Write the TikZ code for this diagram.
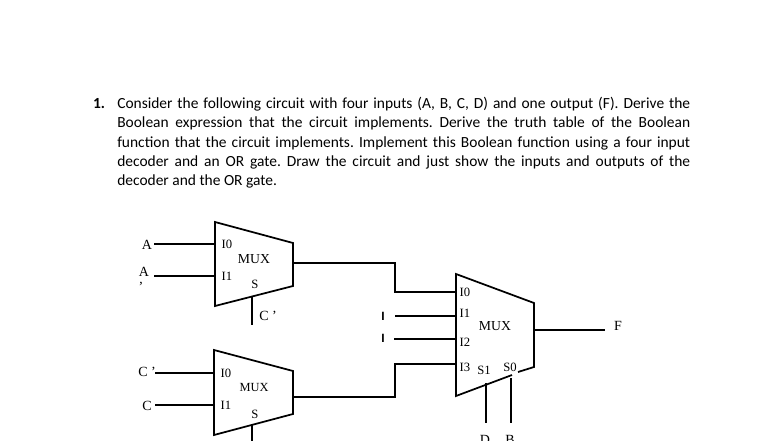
\documentclass[tikz,border=0pt]{standalone}
\usepackage{fontspec}
\setmainfont{Liberation Serif}
\newfontfamily\bodyfont{Carlito}
\newfontfamily\barfont{Liberation Sans}
\tikzset{
  wire/.style={line width=1.1pt},
  muxline/.style={line width=1.3pt, line join=miter},
  pin/.style={inner sep=0pt, font=\fontsize{9.5}{10}\selectfont},
  muxname/.style={inner sep=0pt, font=\fontsize{10.3}{11}\selectfont},
  sig/.style={inner sep=0pt, font=\fontsize{10.5}{11}\selectfont},
  bar/.style={inner sep=0pt, font=\barfont\bfseries\fontsize{9}{10}\selectfont},
  para/.style={inner sep=0pt, anchor=north west, text width=429.75pt, align=justify,
    font=\bodyfont\fontsize{11.6}{14.6}\selectfont}
}
\begin{document}
\frenchspacing
\begin{tikzpicture}[x=0.75pt, y=-0.75pt]
  \useasboundingbox (0,0) rectangle (784,441);
  \node (num) [inner sep=0pt, font=\bodyfont\bfseries\fontsize{11.6}{14.6}\selectfont] at (99,104) {1.};
  \node (question) [para] at (117,96.5) {Consider the following circuit with four inputs (A, B, C, D) and one output (F). Derive the\linebreak
    Boolean expression that the circuit implements. Derive the truth table of the Boolean\linebreak
    function that the circuit implements. Implement this Boolean function using a four input\linebreak
    decoder and an OR gate. Draw the circuit and just show the inputs and outputs of the\linebreak
    decoder and the OR gate.};
  % upper mux
  \coordinate (ua) at (215,222);
  \coordinate (ub) at (293,243);
  \coordinate (uc) at (293,286);
  \coordinate (ud) at (215,306);
  \draw[muxline] (ua) -- (ub) -- (uc) -- (ud) -- cycle;
  \node (ulabel) [muxname] at (254,259) {MUX};
  \node (uizero) [pin] at (227,244) {I0};
  \node (uione) [pin] at (227,276) {I1};
  \node (us) [pin] at (255,284) {S};
  % lower mux
  \coordinate (la) at (214,350);
  \coordinate (lb) at (293,371);
  \coordinate (lc) at (293,414);
  \coordinate (ld) at (214,435);
  \draw[muxline] (la) -- (lb) -- (lc) -- (ld) -- cycle;
  \node (llabel) [muxname, font=\fontsize{9.3}{10}\selectfont] at (254,387) {MUX};
  \node (lizero) [pin] at (226,373) {I0};
  \node (lione) [pin] at (226,405) {I1};
  \node (ls) [pin] at (255,414) {S};
  % big mux, its edge stops short of S0
  \coordinate (ba) at (456,274);
  \coordinate (bb) at (534,303);
  \coordinate (bc) at (534,367);
  \coordinate (bgapa) at (518,372);
  \coordinate (bgapb) at (512,375);
  \coordinate (bd) at (456,396);
  \draw[muxline] (bgapa) -- (bc) -- (bb) -- (ba) -- (bd) -- (bgapb);
  \node (blabel) [muxname] at (495,326) {MUX};
  \node (bizero) [pin] at (465,292) {I0};
  \node (bione) [pin] at (465,313) {I1};
  \node (bitwo) [pin] at (465,342) {I2};
  \node (bithree) [pin] at (465,367) {I3};
  \node (bsone) [pin] at (484,370) {S1};
  \node (bszero) [pin] at (510,367) {S0};
  % signal names
  \node (siga) [sig] at (147,245) {A};
  \node (sigb) [sig] at (144,272) {A};
  \node (sigbp) [sig] at (141,287) {'};
  \node (sigc) [sig] at (268,316) {C '};
  \node (sigd) [sig] at (147,372) {C '};
  \node (sige) [sig] at (147,406) {C};
  \node (sigf) [sig] at (618,326) {F};
  \node (sigg) [sig] at (485,440) {D};
  \node (sigh) [sig] at (510,440) {B};
  \node (sigone) [bar] at (383,316.5) {I};
  \node (sigzero) [bar] at (383,338.5) {I};
  % wire ends
  \coordinate (w1a) at (154,244);
  \coordinate (w1b) at (215,244);
  \coordinate (w2a) at (154,276);
  \coordinate (w2b) at (215,276);
  \coordinate (w3a) at (155,373);
  \coordinate (w3b) at (214,373);
  \coordinate (w4a) at (155,405);
  \coordinate (w4b) at (214,405);
  \coordinate (usa) at (252,297);
  \coordinate (usb) at (252,325);
  \coordinate (lsa) at (252,425);
  \coordinate (lsb) at (252,441);
  \coordinate (uout) at (293,263);
  \coordinate (lout) at (293,397);
  \coordinate (ujog) at (395,263);
  \coordinate (ljog) at (395,397);
  \coordinate (bin0) at (455,292);
  \coordinate (bin1a) at (395,316);
  \coordinate (bin1) at (455,316);
  \coordinate (bin2a) at (394,339);
  \coordinate (bin2) at (455,339);
  \coordinate (bin3) at (455,364);
  \coordinate (bout) at (534,330);
  \coordinate (boutb) at (605,330);
  \coordinate (sonea) at (486,383);
  \coordinate (soneb) at (486,423);
  \coordinate (szeroa) at (511,378);
  \coordinate (szerob) at (511,423);
  \path[wire, draw]
  (w1a) edge (w1b)
  (w2a) edge (w2b)
  (w3a) edge (w3b)
  (w4a) edge (w4b)
  (usa) edge (usb)
  (lsa) edge (lsb)
  (bin1a) edge (bin1)
  (bin2a) edge (bin2)
  (bout) edge (boutb)
  (sonea) edge (soneb)
  (szeroa) edge (szerob);
  \draw[wire] (uout) -| (ujog) |- (bin0);
  \draw[wire] (lout) -| (ljog) |- (bin3);
\end{tikzpicture}
\end{document}
